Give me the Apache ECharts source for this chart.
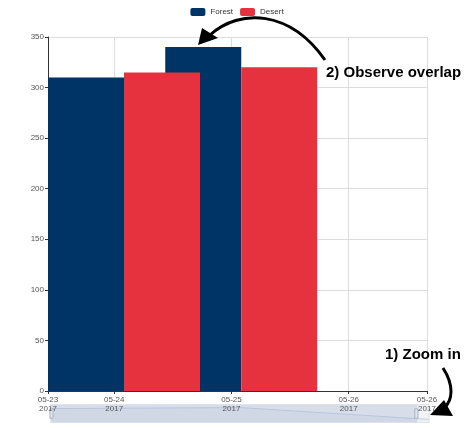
<!DOCTYPE html>
<html>
<head>
<meta charset="utf-8">
<script src="https://cdn.jsdelivr.net/npm/echarts@6/dist/echarts.min.js"></script>
<style>
html,body{margin:0;padding:0;background:#fff;}
#chart{width:474px;height:428px;}
</style>
</head>
<body>
<div id="chart"></div>
<script>
const seriesNames = ['Forest', 'Desert'];
const dates = ['2017-05-24 02:00', '2017-05-25 02:00', '2017-05-26 02:00'];
const forest = [310, 340, 0];
const desert = [315, 320, 0];
const zoomStartPercent = 0;
const zoomEndPercent = 96.8;
const yTicks = [0, 50, 100, 150, 200, 250, 300, 350];

function t(s) {
  const m = s.match(/(\d+)-(\d+)-(\d+) (\d+):(\d+)/);
  return new Date(+m[1], +m[2] - 1, +m[3], +m[4], +m[5]).getTime();
}
const chart = echarts.init(document.getElementById('chart'));
const font = 'Liberation Sans, Arial, sans-serif';

chart.setOption({
  animation: false,
  textStyle: { fontFamily: font },
  legend: {
    top: 3, left: 'center',
    itemWidth: 15, itemHeight: 8, itemGap: 7,
    textStyle: { fontSize: 8, color: '#333' },
    data: seriesNames
  },
  grid: { left: 48, right: 47, top: 37, bottom: 37 },
  xAxis: {
    type: 'time',
    minInterval: 24 * 3600 * 1000,
    axisLine: { lineStyle: { color: '#333' } },
    axisTick: { show: true, length: 3, lineStyle: { color: '#333' } },
    splitLine: { show: true, lineStyle: { color: '#ddd' } },
    axisLabel: {
      formatter: '{MM}-{dd}\n{yyyy}', fontSize: 8, color: '#555', lineHeight: 9,
      margin: 4, showMinLabel: true, showMaxLabel: true, hideOverlap: false
    }
  },
  yAxis: {
    type: 'value', min: yTicks[0], max: yTicks[yTicks.length - 1], interval: 50,
    axisLine: { show: true, lineStyle: { color: '#333' } },
    axisTick: { show: true, length: 3, lineStyle: { color: '#333' } },
    splitLine: { show: true, lineStyle: { color: '#ddd' } },
    axisLabel: { fontSize: 8, color: '#555', margin: 4 }
  },
  dataZoom: [{
    type: 'slider', xAxisIndex: 0, filterMode: 'none', z: -1,
    start: zoomStartPercent, end: zoomEndPercent,
    left: 48, right: 47, bottom: 5, height: 19,
    showDetail: false, brushSelect: false, moveHandleSize: 0,
    borderColor: '#dde3ea',
    backgroundColor: 'rgba(230,234,240,0.5)',
    fillerColor: 'rgba(190,202,220,0.5)',
    handleIcon: 'path://M0,0 L10,0 L10,30 L0,30 Z',
    handleSize: '50%',
    handleStyle: { color: '#dfe5ec', borderColor: '#a8b4c4' },
    dataBackground: {
      lineStyle: { color: '#c5cfdc', width: 1 },
      areaStyle: { color: 'rgba(200,210,225,0.4)' }
    }
  }],
  series: [
    {
      name: seriesNames[0], type: 'bar', barWidth: 76, barGap: '0%',
      itemStyle: { color: '#003366' },
      data: dates.map((d, i) => [t(d), forest[i]])
    },
    {
      name: seriesNames[1], type: 'bar', barWidth: 76, barGap: '0%',
      itemStyle: { color: '#e5323e' },
      data: dates.map((d, i) => [t(d), desert[i]])
    }
  ],
  graphic: [
    { type: 'text', left: 326, top: 65, z: 100,
      style: { text: '2) Observe overlap', font: 'bold 15px Liberation Sans, Arial, sans-serif', fill: '#000' } },
    { type: 'text', left: 385, top: 347, z: 100,
      style: { text: '1) Zoom in', font: 'bold 15px Liberation Sans, Arial, sans-serif', fill: '#000' } },
    { type: 'bezierCurve', z: 100,
      shape: { x1: 325, y1: 60, cpx1: 290, cpy1: 10, cpx2: 240, cpy2: 8, x2: 210, y2: 35 },
      style: { stroke: '#000', lineWidth: 3, fill: null } },
    { type: 'polygon', z: 100,
      shape: { points: [[198, 45], [202, 28], [218, 38]] },
      style: { fill: '#000' } },
    { type: 'bezierCurve', z: 100,
      shape: { x1: 443, y1: 368, cpx1: 454, cpy1: 385, cpx2: 453, cpy2: 400, x2: 444, y2: 408 },
      style: { stroke: '#000', lineWidth: 3, fill: null } },
    { type: 'polygon', z: 100,
      shape: { points: [[430, 415], [444, 400], [453, 416]] },
      style: { fill: '#000' } }
  ]
});
</script>
</body>
</html>
